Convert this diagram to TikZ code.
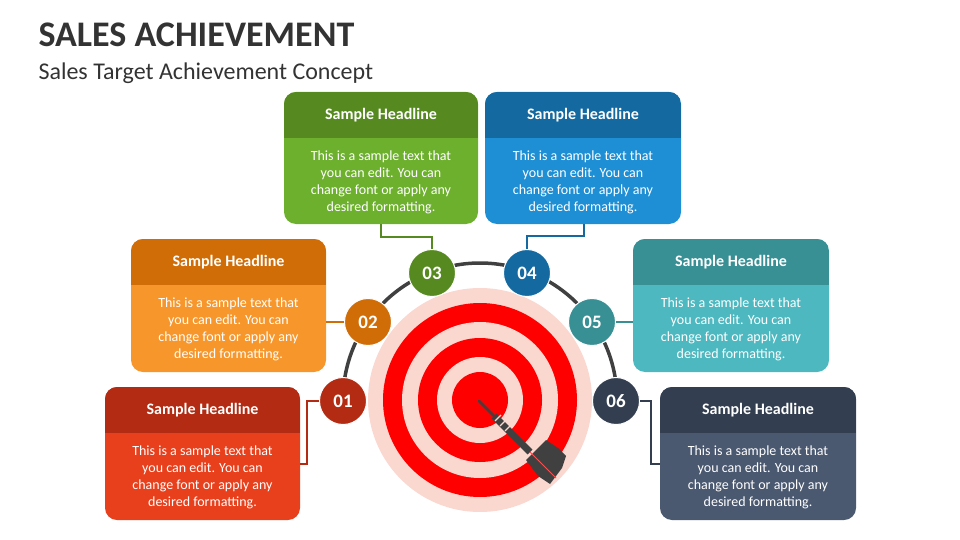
\documentclass[tikz,border=0pt]{standalone}
\usepackage{fontspec}
\setmainfont{Carlito}
\begin{document}
\begin{tikzpicture}[x=1pt,y=-1pt,
  hd/.style={font=\bfseries\fontsize{16}{18}\selectfont,text=white},
  bd/.style={font=\fontsize{14}{17}\selectfont,text=white,align=center},
  num/.style={circle,minimum size=47pt,inner sep=0pt,draw=white,line width=1pt,font=\bfseries\fontsize{19}{20}\selectfont,text=white},
  conn/.style={line width=2pt}]
\useasboundingbox (0,0) rectangle (960,540);
\definecolor{tgray}{HTML}{333333}
\node[anchor=west,font=\bfseries\fontsize{36}{38}\selectfont,text=tgray] (title) at (35,35) {SALES ACHIEVEMENT};
\node[anchor=west,font=\fontsize{24}{26}\selectfont,text=tgray] (sub) at (35,73) {Sales Target Achievement Concept};
\newcommand{\mybox}[6]{%
  \fill[#5,rounded corners=12pt] (#1,#2) rectangle (#3,#4);
  \begin{scope}
  \clip[rounded corners=12pt] (#1,#2) rectangle (#3,#4);
  \fill[#6] (#1,#2) rectangle (#3,#2+46);
  \end{scope}
  \node[hd] at ({(#1+#3)/2},#2+23) {Sample Headline};
  \node[bd] at ({(#1+#3)/2},#2+90) {This is a sample text that\\you can edit. You can\\change font or apply any\\desired formatting.};
}
\definecolor{ha}{HTML}{B22B12}\definecolor{ba}{HTML}{E8401C}
\definecolor{hb}{HTML}{D06D07}\definecolor{bb}{HTML}{F7962A}
\definecolor{hc}{HTML}{568A20}\definecolor{bc}{HTML}{6DB02E}
\definecolor{hdd}{HTML}{1369A0}\definecolor{bdd}{HTML}{1E8FD5}
\definecolor{he}{HTML}{388F94}\definecolor{be}{HTML}{4DB8C0}
\definecolor{hf}{HTML}{333F50}\definecolor{bf}{HTML}{4A5870}
\definecolor{pinkr}{HTML}{FAD7CF}
\mybox{105}{387}{300}{520}{ba}{ha}
\mybox{131}{239}{326}{372}{bb}{hb}
\mybox{284}{92}{478}{224}{bc}{hc}
\mybox{485}{92}{681}{224}{bdd}{hdd}
\mybox{633}{239}{829}{372}{be}{he}
\mybox{660}{387}{856}{520}{bf}{hf}
\draw[line width=3.5pt,color=black!75] (343,400) arc[start angle=180,end angle=360,radius=137];
\fill[pinkr] (480,400) circle (112);
\fill[red] (480,400) circle (97);
\fill[pinkr] (480,400) circle (78);
\fill[red] (480,400) circle (62);
\fill[pinkr] (480,400) circle (43);
\fill[red] (480,400) circle (28);
\definecolor{dg}{HTML}{404040}
\draw[dg,line width=2.5pt,line cap=round] (479,401) -- (495,417);
\draw[dg,line width=7pt] (494,416) -- (530,452);
\draw[pinkr,line width=1.2pt] (501,415)--(495,421) (506,420)--(500,426) (511,425)--(505,431);
\fill[dg] (526,460) -- (546,440) -- (558,448) -- (566,456) -- (562,468) -- (550,484) -- (538,476) -- cycle;
\draw[red!70,line width=1pt] (530,452) -- (556,478);
\node[num,fill=ha] (n1) at (343,401) {01};
\node[num,fill=hb] (n2) at (368,322) {02};
\node[num,fill=hc] (n3) at (432,273) {03};
\node[num,fill=hdd] (n4) at (527,273) {04};
\node[num,fill=he] (n5) at (592,322) {05};
\node[num,fill=hf] (n6) at (616,401) {06};
\coordinate (c1) at (300,464); \coordinate (c2) at (326,322);
\coordinate (c3) at (381,224); \coordinate (c4) at (584,224);
\coordinate (c5) at (633,322); \coordinate (c6) at (660,464);
\draw[conn,ha] (n1.west) -- (307,401) -- (307,464) -- (c1);
\draw[conn,hb] (n2.west) -- (c2);
\draw[conn,hc] (n3.north) -- (432,237) -- (381,237) -- (c3);
\draw[conn,hdd] (n4.north) -- (527,236) -- (584,236) -- (c4);
\draw[conn,he] (n5.east) -- (c5);
\draw[conn,hf] (n6.east) -- (651,401) -- (651,464) -- (c6);
\end{tikzpicture}
\end{document}
